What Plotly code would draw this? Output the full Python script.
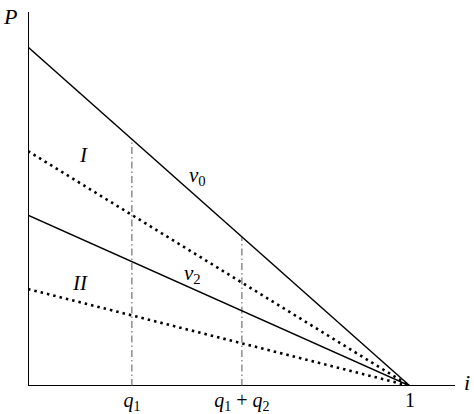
import plotly.graph_objects as go

# positions along i axis
tick_vals = [0.272, 0.56, 1.0]
tick_text = ["<i>q</i><sub>1</sub>", "<i>q</i><sub>1</sub> + <i>q</i><sub>2</sub>", "1"]

line_x = [0.0, 1.0]
v0 = [1.0, 0.0]
line_I = [0.693, 0.0]
v2 = [0.504, 0.0]
line_II = [0.286, 0.0]

x_axis_end = 1.118
y_axis_end = 1.103

FONT = "Liberation Serif, DejaVu Serif, serif"

fig = go.Figure()

# axes drawn as lines
fig.add_trace(go.Scatter(x=[0, x_axis_end], y=[0, 0], mode="lines",
                         line=dict(color="black", width=2), hoverinfo="skip"))
fig.add_trace(go.Scatter(x=[0, 0], y=[0, y_axis_end], mode="lines",
                         line=dict(color="black", width=2), hoverinfo="skip"))

# vertical dash-dot guides from i axis up to v0
for q in tick_vals[:2]:
    top = v0[0] + (v0[1] - v0[0]) * q
    fig.add_trace(go.Scatter(x=[q, q], y=[0, top], mode="lines",
                             line=dict(color="#555555", width=1, dash="7px,3px,1.5px,3px"),
                             hoverinfo="skip"))

fig.add_trace(go.Scatter(x=line_x, y=v0, mode="lines",
                         line=dict(color="black", width=1.4)))
fig.add_trace(go.Scatter(x=line_x, y=v2, mode="lines",
                         line=dict(color="black", width=1.4)))
fig.add_trace(go.Scatter(x=line_x, y=line_I, mode="lines",
                         line=dict(color="black", width=2.6, dash="2.5px,4px")))
fig.add_trace(go.Scatter(x=line_x, y=line_II, mode="lines",
                         line=dict(color="black", width=2.6, dash="2.5px,4px")))

labels = [
    (0.145, 0.68, "<i>I</i>"),
    (0.443, 0.62, "<i>v</i><sub>0</sub>"),
    (0.43, 0.33, "<i>v</i><sub>2</sub>"),
    (0.136, 0.305, "<i>II</i>"),
]
for x, y, t in labels:
    fig.add_annotation(x=x, y=y, text=t, showarrow=False,
                       font=dict(family=FONT, size=21, color="black"))

# axis names, placed in paper units so they may sit outside the plot area
fig.add_annotation(x=-0.040, y=0.958, xref="paper", yref="paper", text="<i>P</i>",
                   xanchor="center", yanchor="middle",
                   showarrow=False, font=dict(family=FONT, size=22, color="black"))
fig.add_annotation(x=0.984, y=0.008, xref="paper", yref="paper", text="<i>i</i>",
                   xanchor="center", yanchor="middle",
                   showarrow=False, font=dict(family=FONT, size=22, color="black"))

fig.update_layout(
    width=474, height=414,
    margin=dict(l=28, r=0, t=0, b=28),
    paper_bgcolor="white", plot_bgcolor="white",
    showlegend=False,
    xaxis=dict(range=[0, 446 / 382], tickvals=tick_vals, ticktext=tick_text,
               showgrid=False, zeroline=False, showline=False, ticks="",
               tickfont=dict(family=FONT, size=20, color="black")),
    yaxis=dict(range=[0, 386 / 339], showticklabels=False,
               showgrid=False, zeroline=False, showline=False, ticks=""),
)

fig.write_html("out.html", config={"displayModeBar": False},
               post_script="document.body.style.margin='0';")
